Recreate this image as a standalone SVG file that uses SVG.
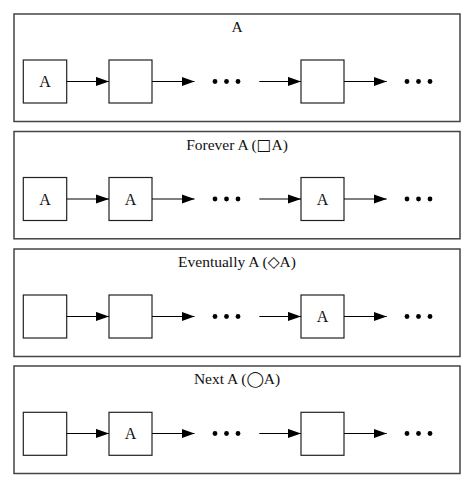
<svg xmlns="http://www.w3.org/2000/svg" width="474" height="488" viewBox="0 0 474 488">
<defs>
<marker id="ah" markerUnits="userSpaceOnUse" markerWidth="14" markerHeight="10" refX="13" refY="4.6" orient="auto" viewBox="0 0 14 10">
<path d="M0,0 L13,4.6 L0,9.2 Z" fill="#000"/>
</marker>
<style>
.panel{fill:#fff;stroke:#444;stroke-width:1.5}
.box{fill:#fff;stroke:#222;stroke-width:1.2}
.t{font-family:"Liberation Serif","DejaVu Serif",serif;font-size:15.5px;fill:#111;text-anchor:middle}
.bt{font-family:"Liberation Serif","DejaVu Serif",serif;font-size:16px;fill:#111;text-anchor:middle}
.sym{font-family:"DejaVu Sans","Noto Sans",sans-serif}
.arr{stroke:#000;stroke-width:1.2;fill:none;marker-end:url(#ah)}
.dot{fill:#000}
</style>
</defs>
<rect width="474" height="488" fill="#fff"/>

<!-- Panel 1 -->
<g id="panel1">
<rect class="panel" x="14" y="14" width="446" height="107.5"/>
<text class="t" x="237" y="32">A</text>
</g>
<g id="p1n1"><rect class="box" x="23.3" y="60" width="43.4" height="43"/><text class="bt" x="45" y="87">A</text></g>
<g id="p1n2"><rect class="box" x="109" y="60" width="43" height="43"/></g>
<g id="p1n3"><rect class="box" x="301" y="60" width="43" height="43"/></g>

<!-- Panel 2 -->
<g id="panel2">
<rect class="panel" x="14" y="131.5" width="446" height="107.3"/>
<text class="t" x="237" y="149.5">Forever A (<tspan class="sym">□</tspan>A)</text>
</g>
<g id="p2n1"><rect class="box" x="23.3" y="177.5" width="43.4" height="43"/><text class="bt" x="45" y="204.5">A</text></g>
<g id="p2n2"><rect class="box" x="109" y="177.5" width="43" height="43"/><text class="bt" x="130.5" y="204.5">A</text></g>
<g id="p2n3"><rect class="box" x="301" y="177.5" width="43" height="43"/><text class="bt" x="322.5" y="204.5">A</text></g>

<!-- Panel 3 -->
<g id="panel3">
<rect class="panel" x="14" y="249" width="446" height="107.5"/>
<text class="t" x="237" y="267">Eventually A (<tspan class="sym">◇</tspan>A)</text>
</g>
<g id="p3n1"><rect class="box" x="23.3" y="295" width="43.4" height="43"/></g>
<g id="p3n2"><rect class="box" x="109" y="295" width="43" height="43"/></g>
<g id="p3n3"><rect class="box" x="301" y="295" width="43" height="43"/><text class="bt" x="322.5" y="322">A</text></g>

<!-- Panel 4 -->
<g id="panel4">
<rect class="panel" x="14" y="366" width="446" height="107.5"/>
<text class="t" x="237" y="384">Next A (<tspan class="sym">◯</tspan>A)</text>
</g>
<g id="p4n1"><rect class="box" x="23.3" y="412.3" width="43.4" height="43"/></g>
<g id="p4n2"><rect class="box" x="109" y="412.3" width="43" height="43"/><text class="bt" x="130.5" y="439.3">A</text></g>
<g id="p4n3"><rect class="box" x="301" y="412.3" width="43" height="43"/></g>

<g id="connectors">
<line class="arr" x1="66.7" y1="81.5" x2="109" y2="81.5"/>
<line class="arr" x1="152" y1="81.5" x2="194.5" y2="81.5"/>
<line class="arr" x1="259.3" y1="81.5" x2="301" y2="81.5"/>
<line class="arr" x1="344" y1="81.5" x2="386.7" y2="81.5"/>

<line class="arr" x1="66.7" y1="199" x2="109" y2="199"/>
<line class="arr" x1="152" y1="199" x2="194.5" y2="199"/>
<line class="arr" x1="259.3" y1="199" x2="301" y2="199"/>
<line class="arr" x1="344" y1="199" x2="386.7" y2="199"/>

<line class="arr" x1="66.7" y1="316.5" x2="109" y2="316.5"/>
<line class="arr" x1="152" y1="316.5" x2="194.5" y2="316.5"/>
<line class="arr" x1="259.3" y1="316.5" x2="301" y2="316.5"/>
<line class="arr" x1="344" y1="316.5" x2="386.7" y2="316.5"/>

<line class="arr" x1="66.7" y1="433.5" x2="109" y2="433.5"/>
<line class="arr" x1="152" y1="433.5" x2="194.5" y2="433.5"/>
<line class="arr" x1="259.3" y1="433.5" x2="301" y2="433.5"/>
<line class="arr" x1="344" y1="433.5" x2="386.7" y2="433.5"/>
</g>

<g id="dots">
<circle class="dot" cx="215" cy="81.5" r="2.4"/><circle class="dot" cx="226.5" cy="81.5" r="2.4"/><circle class="dot" cx="238" cy="81.5" r="2.4"/>
<circle class="dot" cx="407" cy="81.5" r="2.4"/><circle class="dot" cx="418.5" cy="81.5" r="2.4"/><circle class="dot" cx="430" cy="81.5" r="2.4"/>
<circle class="dot" cx="215" cy="199" r="2.4"/><circle class="dot" cx="226.5" cy="199" r="2.4"/><circle class="dot" cx="238" cy="199" r="2.4"/>
<circle class="dot" cx="407" cy="199" r="2.4"/><circle class="dot" cx="418.5" cy="199" r="2.4"/><circle class="dot" cx="430" cy="199" r="2.4"/>
<circle class="dot" cx="215" cy="316.5" r="2.4"/><circle class="dot" cx="226.5" cy="316.5" r="2.4"/><circle class="dot" cx="238" cy="316.5" r="2.4"/>
<circle class="dot" cx="407" cy="316.5" r="2.4"/><circle class="dot" cx="418.5" cy="316.5" r="2.4"/><circle class="dot" cx="430" cy="316.5" r="2.4"/>
<circle class="dot" cx="215" cy="433.5" r="2.4"/><circle class="dot" cx="226.5" cy="433.5" r="2.4"/><circle class="dot" cx="238" cy="433.5" r="2.4"/>
<circle class="dot" cx="407" cy="433.5" r="2.4"/><circle class="dot" cx="418.5" cy="433.5" r="2.4"/><circle class="dot" cx="430" cy="433.5" r="2.4"/>
</g>
</svg>
